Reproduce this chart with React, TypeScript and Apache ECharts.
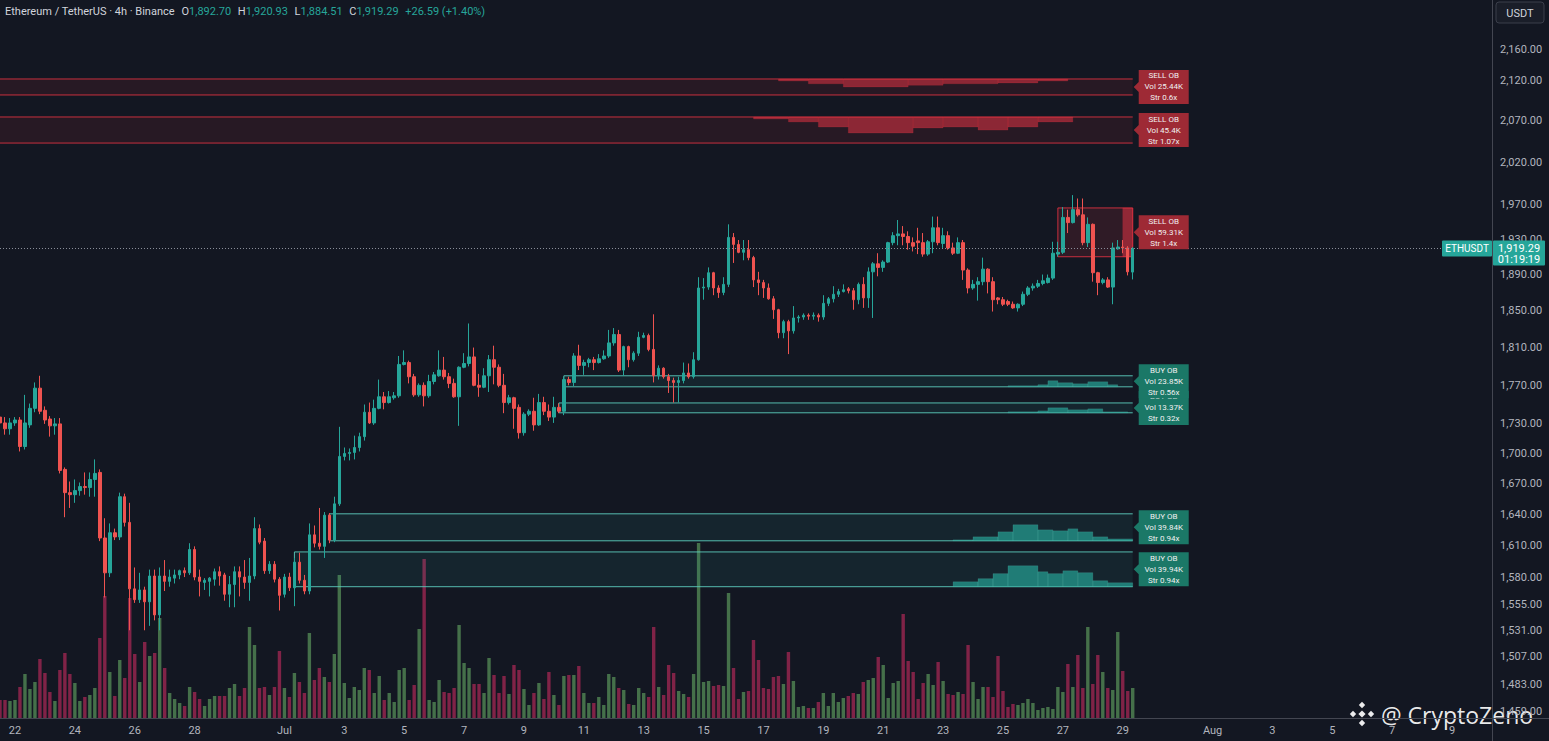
import React, { useEffect, useRef } from "react";
import * as echarts from "echarts";

// ---------- DATA (4h candles, Jun 21 12:00 -> Jul 29 08:00) ----------
const openP = [
  1737, 1731, 1725, 1731, 1734, 1707, 1729, 1746, 1767, 1744, 1735, 1728, 1730, 1684, 1661, 1659, 1663, 1667, 1666, 1674,
  1681, 1617, 1584, 1622, 1618, 1657, 1632, 1569, 1559, 1568, 1557, 1581, 1545, 1581, 1576, 1579, 1582, 1586, 1584, 1606,
  1580, 1575, 1576, 1578, 1585, 1582, 1564, 1573, 1585, 1580, 1575, 1581, 1626, 1614, 1586, 1592, 1578, 1564, 1580, 1570,
  1594, 1577, 1567, 1620, 1612, 1609, 1639, 1615, 1650, 1697, 1700, 1701, 1706, 1717, 1742, 1731, 1746, 1758, 1752, 1757,
  1759, 1792, 1794, 1779, 1760, 1770, 1759, 1774, 1780, 1786, 1779, 1772, 1758, 1789, 1793, 1800, 1770, 1768, 1780, 1797,
  1789, 1770, 1752, 1757, 1747, 1721, 1740, 1743, 1729, 1752, 1743, 1737, 1747, 1743, 1776, 1773, 1801, 1791, 1794, 1797,
  1794, 1798, 1801, 1815, 1824, 1786, 1811, 1797, 1804, 1821, 1823, 1808, 1780, 1788, 1779, 1775, 1773, 1775, 1783, 1779,
  1797, 1875, 1876, 1892, 1875, 1870, 1879, 1932, 1924, 1915, 1918, 1909, 1884, 1881, 1875, 1863, 1851, 1826, 1838, 1828,
  1842, 1843, 1845, 1844, 1845, 1843, 1858, 1863, 1868, 1871, 1874, 1872, 1862, 1879, 1864, 1893, 1902, 1898, 1904, 1926,
  1934, 1936, 1933, 1926, 1928, 1926, 1913, 1927, 1943, 1925, 1934, 1920, 1914, 1926, 1895, 1875, 1879, 1882, 1896, 1882,
  1864, 1862, 1860, 1857, 1853, 1857, 1868, 1875, 1877, 1880, 1881, 1886, 1913, 1915, 1955, 1949, 1964, 1958, 1926, 1947,
  1892, 1881, 1884, 1876, 1919, 1921, 1920, 1892.7,
];
const closeP = [
  1731, 1725, 1731, 1734, 1707, 1731, 1746, 1767, 1743, 1734, 1728, 1730, 1683, 1661, 1659, 1663, 1667, 1666, 1674, 1680,
  1617, 1584, 1622, 1618, 1657, 1632, 1569, 1559, 1568, 1557, 1581, 1545, 1581, 1576, 1580, 1582, 1586, 1584, 1606, 1580,
  1576, 1577, 1579, 1585, 1581, 1564, 1573, 1585, 1580, 1575, 1581, 1626, 1613, 1586, 1592, 1578, 1563, 1580, 1570, 1594,
  1577, 1567, 1620, 1612, 1609, 1639, 1615, 1650, 1697, 1700, 1701, 1706, 1717, 1742, 1731, 1746, 1758, 1752, 1758, 1759,
  1792, 1794, 1779, 1760, 1770, 1759, 1774, 1781, 1786, 1779, 1772, 1758, 1789, 1793, 1800, 1770, 1768, 1780, 1797, 1789,
  1770, 1752, 1757, 1746, 1721, 1740, 1743, 1729, 1752, 1743, 1737, 1747, 1743, 1776, 1773, 1801, 1791, 1794, 1797, 1794,
  1798, 1801, 1815, 1824, 1786, 1811, 1797, 1804, 1821, 1823, 1808, 1780, 1788, 1779, 1775, 1773, 1775, 1783, 1779, 1797,
  1875, 1876, 1892, 1875, 1870, 1879, 1932, 1924, 1915, 1918, 1909, 1884, 1881, 1875, 1863, 1851, 1826, 1838, 1828, 1842,
  1843, 1845, 1844, 1845, 1843, 1858, 1863, 1868, 1871, 1873, 1872, 1862, 1879, 1864, 1893, 1902, 1898, 1904, 1926, 1934,
  1936, 1933, 1926, 1922, 1926, 1913, 1927, 1943, 1926, 1934, 1920, 1914, 1926, 1895, 1875, 1879, 1882, 1896, 1882, 1862,
  1862, 1857, 1857, 1853, 1857, 1868, 1875, 1877, 1880, 1883, 1886, 1914, 1915, 1955, 1949, 1964, 1958, 1926, 1947, 1892,
  1881, 1884, 1876, 1920, 1921, 1920, 1893, 1919.29,
];
const lowP = [
  1726, 1719, 1719, 1728, 1702, 1704, 1726, 1742, 1740, 1730, 1717, 1719, 1680, 1637, 1646, 1651, 1658, 1659, 1657, 1657,
  1614, 1561, 1580, 1615, 1615, 1628, 1531, 1556, 1556, 1531, 1535, 1540, 1531, 1567, 1571, 1574, 1578, 1580, 1582, 1577,
  1562, 1568, 1562, 1572, 1572, 1558, 1552, 1552, 1562, 1569, 1558, 1578, 1611, 1583, 1583, 1575, 1549, 1561, 1567, 1553,
  1574, 1564, 1564, 1608, 1606, 1598, 1612, 1613, 1648, 1693, 1693, 1694, 1702, 1713, 1730, 1729, 1745, 1745, 1751, 1755,
  1757, 1791, 1772, 1758, 1758, 1748, 1757, 1771, 1779, 1776, 1767, 1757, 1728, 1788, 1790, 1769, 1758, 1767, 1763, 1771,
  1768, 1741, 1750, 1725, 1715, 1718, 1738, 1723, 1728, 1739, 1733, 1731, 1741, 1739, 1770, 1769, 1786, 1781, 1789, 1786,
  1793, 1797, 1799, 1812, 1784, 1780, 1789, 1795, 1801, 1820, 1806, 1773, 1776, 1777, 1762, 1752, 1752, 1772, 1777, 1777,
  1796, 1862, 1873, 1867, 1864, 1867, 1876, 1903, 1914, 1906, 1906, 1876, 1867, 1864, 1862, 1841, 1820, 1820, 1803, 1825,
  1837, 1840, 1840, 1840, 1838, 1840, 1855, 1859, 1865, 1870, 1869, 1851, 1857, 1853, 1853, 1842, 1888, 1893, 1903, 1923,
  1923, 1923, 1918, 1916, 1913, 1910, 1911, 1914, 1923, 1920, 1918, 1912, 1913, 1884, 1869, 1873, 1861, 1878, 1869, 1849,
  1857, 1855, 1855, 1852, 1849, 1855, 1866, 1872, 1875, 1878, 1880, 1884, 1910, 1913, 1937, 1948, 1956, 1923, 1921, 1882,
  1867, 1879, 1875, 1857, 1918, 1914, 1889, 1884.51,
];
const highP = [
  1742, 1737, 1736, 1737, 1737, 1760, 1751, 1773, 1780, 1748, 1738, 1736, 1736, 1686, 1672, 1674, 1671, 1681, 1681, 1694,
  1684, 1636, 1631, 1626, 1661, 1660, 1651, 1589, 1584, 1571, 1587, 1587, 1589, 1596, 1587, 1587, 1587, 1589, 1612, 1609,
  1587, 1579, 1580, 1588, 1590, 1584, 1581, 1590, 1590, 1596, 1598, 1637, 1630, 1617, 1595, 1595, 1580, 1583, 1584, 1598,
  1603, 1582, 1631, 1629, 1646, 1642, 1641, 1657, 1727, 1706, 1705, 1718, 1721, 1750, 1752, 1755, 1776, 1763, 1764, 1763,
  1801, 1807, 1796, 1782, 1772, 1773, 1781, 1784, 1807, 1800, 1783, 1777, 1790, 1804, 1836, 1810, 1782, 1788, 1802, 1812,
  1792, 1782, 1760, 1758, 1750, 1742, 1745, 1757, 1761, 1758, 1750, 1758, 1751, 1779, 1779, 1804, 1813, 1797, 1799, 1800,
  1803, 1807, 1829, 1831, 1829, 1812, 1812, 1806, 1827, 1826, 1825, 1846, 1791, 1789, 1782, 1778, 1779, 1794, 1793, 1805,
  1887, 1886, 1898, 1893, 1878, 1887, 1947, 1937, 1929, 1929, 1929, 1911, 1893, 1884, 1880, 1866, 1852, 1840, 1840, 1855,
  1845, 1847, 1847, 1848, 1847, 1867, 1865, 1877, 1874, 1879, 1876, 1875, 1881, 1887, 1898, 1904, 1914, 1906, 1927, 1938,
  1952, 1945, 1939, 1932, 1943, 1937, 1929, 1956, 1956, 1943, 1939, 1926, 1932, 1929, 1897, 1884, 1887, 1909, 1897, 1887,
  1865, 1865, 1862, 1860, 1858, 1871, 1877, 1880, 1884, 1890, 1890, 1927, 1927, 1967, 1964, 1981, 1977, 1977, 1955, 1948,
  1893, 1886, 1887, 1926, 1929, 1929, 1922, 1920.93,
];
// volume (thousands, estimated)
const volume = [
  18, 18, 17, 18, 31, 44, 29, 36, 59, 45, 26, 17, 48, 65, 44, 35, 17, 21, 23, 30,
  80, 122, 46, 22, 58, 40, 120, 64, 36, 76, 62, 65, 100, 50, 25, 19, 15, 12, 31, 26,
  19, 12, 19, 22, 22, 22, 30, 34, 22, 30, 91, 73, 30, 31, 23, 31, 67, 30, 21, 45,
  36, 25, 85, 38, 50, 41, 36, 64, 143, 35, 20, 31, 28, 50, 48, 25, 42, 18, 25, 16,
  48, 50, 18, 33, 89, 159, 18, 16, 38, 26, 25, 30, 93, 55, 50, 34, 34, 25, 60, 43,
  25, 42, 24, 53, 48, 29, 13, 25, 35, 19, 46, 23, 13, 42, 43,
  43, 52, 25, 15, 15, 21, 13, 44, 41, 30, 28, 14, 13, 30, 25, 21, 91, 31, 23, 53,
  45, 27, 24, 21, 44, 175, 36, 37, 32, 33, 32, 125, 50, 19, 26, 27, 78, 58, 30, 29,
  41, 42, 34, 66, 37, 11, 12, 10, 10, 16, 25, 12, 25, 16, 20, 22, 25, 24, 36, 38,
  40, 61, 53, 20, 35, 37, 104, 57, 46, 19, 35, 44, 33, 56, 37, 24, 23, 26, 24, 73,
  36, 19, 31, 31, 21, 62, 27, 11, 14, 13, 15, 19, 15, 8, 10, 11, 9, 31, 26, 54,
  31, 63, 30, 91, 34, 63, 46, 30, 28, 86, 47, 27, 30,
];

// time axis
const START_MS = Date.UTC(2023, 5, 21, 12);
const SLOT_COUNT = 300;
const tickDays = [
  "06-22", "06-24", "06-26", "06-28", "07-01", "07-03", "07-05", "07-07", "07-09", "07-11", "07-13", "07-15",
  "07-17", "07-19", "07-21", "07-23", "07-25", "07-27", "07-29", "08-01", "08-03", "08-05", "08-07", "08-09",
];
const tickTexts = [
  "22", "24", "26", "28", "Jul", "3", "5", "7", "9", "11", "13", "15",
  "17", "19", "21", "23", "25", "27", "29", "Aug", "3", "5", "7", "9",
];
const priceTicks = [2160, 2120, 2070, 2020, 1970, 1930, 1890, 1850, 1810, 1770, 1730, 1700, 1670, 1640, 1610, 1580, 1555, 1531, 1507, 1483, 1459];

// order blocks
const obKind = ["sell", "sell", "sell", "buy", "buy", "buy", "buy"];
const obFrom = [0, 0, 212, 113, 112, 66, 59];
const obTo = [227, 227, 227, 227, 227, 227, 227];
const obTop = [2122, 2074.8, 1966, 1780, 1751.6, 1640.3, 1603.7];
const obBottom = [2102, 2043, 1910, 1768.4, 1741.4, 1614.3, 1571];
const obVol = ["25.44K", "45.4K", "59.31K", "23.85K", "13.37K", "39.84K", "39.94K"];
const obStr = ["0.6x", "1.07x", "1.4x", "0.56x", "0.32x", "0.94x", "0.94x"];
const labelOrder = [0, 1, 2, 4, 3, 5, 6];

// volume profile rows inside order blocks
const profZone = [0, 0, 0, 0, 0, 0, 0, 1, 1, 1, 1, 1, 1, 1, 1, 1, 2, 3, 3, 3, 3, 3, 3, 3, 4, 4, 4, 4, 4, 4, 5, 5, 5, 5, 5, 5, 5, 5, 5, 5, 6, 6, 6, 6, 6, 6, 6, 6, 6, 6];
const profFrom = [156, 162, 169, 182, 189, 200, 208, 151, 158, 164, 170, 183, 189, 196, 202, 208, 225, 202, 208, 210, 212, 215, 218, 222, 202, 208, 210, 214, 218, 221, 191, 195, 200, 203, 208, 211, 214, 216, 219, 222, 191, 196, 199, 202, 208, 210, 213, 216, 219, 222];
const profTo = [162, 169, 182, 189, 200, 208, 214, 158, 164, 170, 183, 189, 196, 202, 208, 215, 227, 208, 210, 212, 215, 218, 222, 224, 208, 210, 214, 218, 221, 226, 195, 200, 203, 208, 211, 214, 216, 219, 222, 227, 196, 199, 202, 208, 210, 213, 216, 219, 222, 227];
const profEdge = [2119.5, 2116, 2112, 2114, 2116, 2117, 2119.5, 2072.3, 2068.7, 2062.5, 2055.2, 2061.3, 2062.5, 2058.8, 2062.5, 2068.7, 1910, 1769.5, 1770.6, 1774.8, 1772.7, 1771.6, 1773.7, 1770.6, 1742.4, 1743.4, 1746.5, 1744.5, 1745.5, 1742.4, 1615.2, 1618.1, 1622.9, 1629.7, 1624.8, 1623.9, 1625.8, 1622.9, 1618.1, 1616.1, 1575.6, 1578.5, 1583.2, 1590.6, 1585, 1583.2, 1585.9, 1584.1, 1576.6, 1574.7];

const headerOHLC = ["1,892.70", "1,920.93", "1,884.51", "1,919.29"];
const headerChange = "+26.59 (+1.40%)";
const countdown = "01:19:19";

// ---------- STYLE ----------
const BG = "#131722";
const UP = "#26a69a";
const DOWN = "#ef5350";
const VOL_UP = "#45704a";
const VOL_DOWN = "#802347";
const AXIS_TXT = "#b2b5be";
const LINE = "#434651";
const FONT = "Roboto, 'Noto Sans', sans-serif";
const SELL_LINE = "rgba(242,54,69,0.8)";
const BUY_LINE = "rgba(92,205,190,0.9)";

const pad = (n: number) => (n < 10 ? "0" + n : "" + n);

export default function App() {
  const ref = useRef<HTMLDivElement>(null);

  useEffect(() => {
    document.body.style.margin = "0";
    document.body.style.background = BG;
    if (!ref.current) return;
    const chart = echarts.init(ref.current, undefined, { renderer: "svg" });

    const categories: string[] = [];
    for (let k = 0; k < SLOT_COUNT; k++) {
      const d = new Date(START_MS + k * 4 * 3600 * 1000);
      categories.push(`${pad(d.getUTCMonth() + 1)}-${pad(d.getUTCDate())} ${pad(d.getUTCHours())}`);
    }
    const tickMap: Record<string, string> = {};
    tickDays.forEach((d, i) => (tickMap[d + " 00"] = tickTexts[i]));

    const candles = closeP.map((c, i) => [openP[i], c, lowP[i], highP[i]]);
    const vols = volume.map((v, i) => ({
      value: v,
      itemStyle: { color: closeP[i] >= openP[i] ? VOL_UP : VOL_DOWN },
    }));
    const lastClose = closeP[closeP.length - 1];

    const fmtPrice = (v: number) =>
      (Math.round(v * 100) / 100).toLocaleString("en-US", { minimumFractionDigits: 2, maximumFractionDigits: 2 });

    chart.setOption({
      animation: false,
      backgroundColor: BG,
      textStyle: { fontFamily: FONT },
      grid: [
        { left: 0, right: 57, top: 0, bottom: 23 },
        { left: 0, right: 57, top: 418, bottom: 23 },
      ],
      xAxis: [
        {
          type: "category",
          gridIndex: 0,
          data: categories,
          boundaryGap: false,
          axisLine: { show: false },
          axisTick: { show: false },
          splitLine: { show: false },
          axisLabel: {
            color: AXIS_TXT,
            fontSize: 11,
            fontFamily: FONT,
            margin: 7,
            interval: (_i: number, v: string) => v in tickMap,
            formatter: (v: string) => tickMap[v] || "",
          },
        },
        {
          type: "category",
          gridIndex: 1,
          data: categories,
          boundaryGap: false,
          show: false,
        },
      ],
      yAxis: [
        {
          type: "log",
          logBase: 10,
          gridIndex: 0,
          position: "right",
          min: 1453.5,
          max: 2223.6,
          axisLine: { show: false },
          axisTick: { show: false },
          splitLine: { show: false },
          axisLabel: {
            customValues: priceTicks,
            color: AXIS_TXT,
            fontSize: 11,
            fontFamily: FONT,
            margin: 8,
            formatter: (v: number) => fmtPrice(v),
          },
        },
        { type: "value", gridIndex: 1, min: 0, max: 300, show: false },
      ],
      series: [
        {
          type: "bar",
          name: "vol",
          xAxisIndex: 1,
          yAxisIndex: 1,
          data: vols,
          barWidth: 3.4,
          z: 1,
        },
        {
          type: "custom",
          name: "zones",
          xAxisIndex: 0,
          yAxisIndex: 0,
          z: 2,
          data: obTop.map((t, k) => [obFrom[k], t]),
          renderItem: (params: any, api: any) => {
            const k = params.dataIndex;
            const a = api.coord([obFrom[k], obTop[k]]);
            const b = api.coord([obTo[k], obBottom[k]]);
            const sell = obKind[k] === "sell";
            const stroke = sell ? SELL_LINE : BUY_LINE;
            const ls = { stroke, lineWidth: 1 };
            const children: any[] = [
              {
                type: "rect",
                shape: { x: a[0], y: a[1], width: b[0] - a[0], height: b[1] - a[1] },
                style: {
                  fill: sell ? (k === 2 ? "rgba(242,54,69,0.13)" : "rgba(242,54,69,0.09)") : "rgba(38,166,154,0.10)",
                },
              },
              { type: "line", shape: { x1: a[0], y1: a[1], x2: b[0], y2: a[1] }, style: ls },
              { type: "line", shape: { x1: a[0], y1: b[1], x2: b[0], y2: b[1] }, style: ls },
            ];
            if (obFrom[k] > 0) {
              children.push({ type: "line", shape: { x1: a[0], y1: a[1], x2: a[0], y2: b[1] }, style: ls });
            }
            if (k === 2) {
              children.push({ type: "line", shape: { x1: b[0], y1: a[1], x2: b[0], y2: b[1] }, style: ls });
            }
            return { type: "group", children };
          },
        },
        {
          type: "custom",
          name: "profiles",
          xAxisIndex: 0,
          yAxisIndex: 0,
          z: 3,
          data: profZone.map((z, r) => [profFrom[r], profEdge[r]]),
          renderItem: (params: any, api: any) => {
            const r = params.dataIndex;
            const z = profZone[r];
            const sell = obKind[z] === "sell";
            const edge = sell ? obTop[z] : obBottom[z];
            const a = api.coord([profFrom[r], edge]);
            const b = api.coord([profTo[r], profEdge[r]]);
            const y0 = Math.min(a[1], b[1]);
            return {
              type: "rect",
              shape: { x: a[0], y: y0, width: b[0] - a[0], height: Math.abs(b[1] - a[1]) },
              style: {
                fill: sell ? "rgba(242,54,69,0.5)" : "rgba(38,166,154,0.68)",
                stroke: sell ? "rgba(242,54,69,0.25)" : "rgba(120,220,205,0.25)",
                lineWidth: 0.6,
              },
            };
          },
        },
        {
          type: "candlestick",
          name: "ETHUSDT",
          xAxisIndex: 0,
          yAxisIndex: 0,
          z: 4,
          data: candles,
          barWidth: 3,
          itemStyle: {
            color: UP,
            color0: DOWN,
            borderColor: UP,
            borderColor0: DOWN,
            borderWidth: 1,
          },
          markLine: {
            silent: true,
            symbol: ["none", "none"],
            label: { show: false },
            lineStyle: { type: [1, 2], color: "#8a8e99", width: 1 },
            data: [{ yAxis: lastClose }],
          },
        },
        {
          type: "custom",
          name: "obLabels",
          xAxisIndex: 0,
          yAxisIndex: 0,
          z: 5,
          clip: false,
          data: labelOrder.map((k) => [obTo[k], obTop[k]]),
          renderItem: (params: any, api: any) => {
            const k = labelOrder[params.dataIndex];
            const a = api.coord([obTo[k], obTop[k]]);
            const b = api.coord([obTo[k], obBottom[k]]);
            const yc = (a[1] + b[1]) / 2;
            const x = a[0] + 1;
            const sell = obKind[k] === "sell";
            const fill = sell ? "#9e2a35" : "#1b7867";
            const lines = [sell ? "SELL OB" : "BUY OB", "Vol " + obVol[k], "Str " + obStr[k]];
            return {
              type: "group",
              children: [
                {
                  type: "polygon",
                  shape: {
                    points: [
                      [x, yc],
                      [x + 5, yc - 5],
                      [x + 5, yc - 17],
                      [x + 55, yc - 17],
                      [x + 55, yc + 17],
                      [x + 5, yc + 17],
                      [x + 5, yc + 5],
                    ],
                  },
                  style: { fill },
                },
                ...lines.map((t, j) => ({
                  type: "text",
                  style: {
                    text: t,
                    x: x + 30,
                    y: yc + (j - 1) * 11,
                    fill: "#f0f0f0",
                    fontSize: 8,
                    fontFamily: FONT,
                    align: "center",
                    verticalAlign: "middle",
                  },
                })),
              ],
            };
          },
        },
      ],
    });

    const yLast = chart.convertToPixel({ yAxisIndex: 0 } as any, lastClose) as unknown as number;

    const diamond = (cx: number, cy: number, r: number) => ({
      type: "polygon",
      shape: { points: [[cx, cy - r], [cx + r, cy], [cx, cy + r], [cx - r, cy]] },
      style: { fill: "rgba(255,255,255,0.92)" },
    });

    chart.setOption({
      graphic: [
        // pane borders
        { type: "line", shape: { x1: 1492.5, y1: 0, x2: 1492.5, y2: 741 }, style: { stroke: LINE, lineWidth: 1 }, z: 10 },
        { type: "line", shape: { x1: 0, y1: 718.5, x2: 1549, y2: 718.5 }, style: { stroke: LINE, lineWidth: 1 }, z: 10 },
        // header
        {
          type: "text",
          left: 5,
          top: 5,
          z: 20,
          style: {
            text:
              "{t|Ethereum / TetherUS · 4h · Binance}  {k|O}{v|" + headerOHLC[0] + "}  {k|H}{v|" + headerOHLC[1] +
              "}  {k|L}{v|" + headerOHLC[2] + "}  {k|C}{v|" + headerOHLC[3] + "}  {v|" + headerChange + "}",
            rich: {
              t: { fill: "#d1d4dc", fontSize: 11, fontFamily: FONT },
              k: { fill: "#d1d4dc", fontSize: 11, fontFamily: FONT },
              v: { fill: UP, fontSize: 11, fontFamily: FONT },
            },
          },
        },
        // USDT box
        {
          type: "rect",
          shape: { x: 1496, y: 2, width: 48, height: 21, r: 3 },
          style: { fill: "#1a1e29", stroke: "#3a3e4a", lineWidth: 1 },
          z: 20,
        },
        {
          type: "text",
          z: 21,
          style: { text: "USDT", x: 1520, y: 13, fill: "#d1d4dc", fontSize: 11, fontFamily: FONT, align: "center", verticalAlign: "middle" },
        },
        // symbol tag + price tag
        {
          type: "rect",
          shape: { x: 1442, y: yLast - 8, width: 50, height: 16, r: 1 },
          style: { fill: UP },
          z: 20,
        },
        {
          type: "text",
          z: 21,
          style: { text: "ETHUSDT", x: 1467, y: yLast, fill: "#ffffff", fontSize: 10, fontFamily: FONT, align: "center", verticalAlign: "middle" },
        },
        {
          type: "rect",
          shape: { x: 1493, y: yLast - 8, width: 52, height: 25, r: 1 },
          style: { fill: UP },
          z: 20,
        },
        {
          type: "text",
          z: 21,
          style: { text: fmtPrice(lastClose), x: 1519, y: yLast, fill: "#ffffff", fontSize: 11, fontFamily: FONT, align: "center", verticalAlign: "middle" },
        },
        {
          type: "text",
          z: 21,
          style: { text: countdown, x: 1519, y: yLast + 10.5, fill: "#ffffff", fontSize: 11, fontFamily: FONT, align: "center", verticalAlign: "middle" },
        },
        // watermark (overlaps the axis corner, as in the reference)
        {
          type: "group",
          z: 30,
          children: [
            diamond(1362, 705, 3.2),
            diamond(1362, 723, 3.2),
            diamond(1353, 714, 3.2),
            diamond(1371, 714, 3.2),
            diamond(1362, 714, 3.6),
            {
              type: "text",
              style: {
                text: "@ CryptoZeno",
                x: 1381,
                y: 715,
                fill: "rgba(255,255,255,0.92)",
                fontSize: 23,
                fontFamily: "'Open Sans', Roboto, sans-serif",
                verticalAlign: "middle",
              },
            },
          ],
        },
      ],
    });

    return () => chart.dispose();
  }, []);

  return <div ref={ref} style={{ width: 1549, height: 741, background: BG }} />;
}
